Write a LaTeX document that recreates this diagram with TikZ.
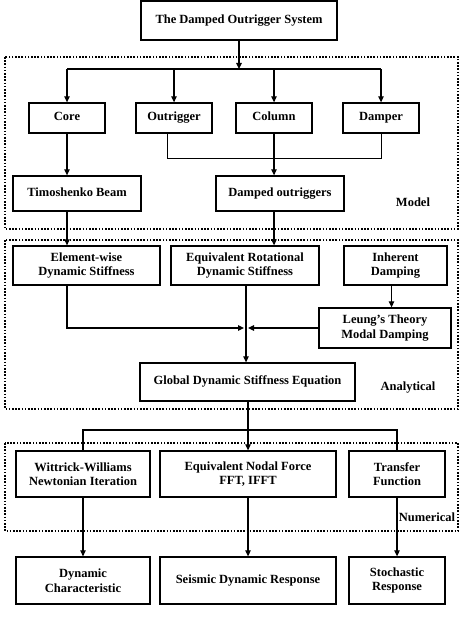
\documentclass[tikz,border=0pt]{standalone}
\usepackage{fontspec}
\setmainfont{Liberation Serif}
\usetikzlibrary{arrows.meta}

\begin{document}
\begin{tikzpicture}[x=1pt,y=-1pt,
  box/.style={draw,line width=1.3pt,inner sep=0pt,align=center,font=\fontsize{12.5}{14.5}\selectfont\bfseries},
  oneline/.style={text height=8.5pt,text depth=3pt},
  conn/.style={line width=1.2pt},
  arr/.style={conn,-{Triangle[length=6pt,width=5.5pt]}},
  thinconn/.style={line width=0.8pt},
  zone/.style={line width=1.8pt,dash pattern=on 1.6pt off 1.6pt},
  zlabel/.style={font=\fontsize{12.5}{14.5}\selectfont\bfseries}]
\useasboundingbox (0,0) rectangle (474,620);

% dotted regions
\draw[zone] (5,57) rectangle (458,229);
\draw[zone] (5,240) rectangle (458,409);
\draw[zone] (5,443) rectangle (458,531);
\node[zlabel] at (413,202) {Model};
\node[zlabel] at (408,388) {Analytical};
\node[zlabel] at (427,517) {Numerical};

% model
\node[box,oneline,minimum width=196,minimum height=39] (sys) at (239,20.5) {The Damped Outrigger System};
\foreach \n/\t/\x in {core/Core/67, outr/Outrigger/174, column/Column/274, damper/Damper/381}
  \node[box,oneline,minimum width=76,minimum height=30] (\n) at (\x,118) {\t};
\node[box,oneline,minimum width=128,minimum height=35] (timo) at (77,193.5) {Timoshenko Beam};
\node[box,oneline,minimum width=128,minimum height=35] (dmpout) at (280,193.5) {Damped outriggers};

\coordinate (split) at (239,69);
\draw[arr] (sys.south) -- (split);
\draw[conn] (core.north |- split) -- (damper.north |- split);
\foreach \n in {core,outr,column,damper}
  \draw[arr] (\n.north |- split) -- (\n.north);
\draw[thinconn] ([xshift=-7pt]outr.south) -- ++(0,25) -| (damper.south);
\draw[arr] (column.south) -- (column.south |- dmpout.north);
\draw[arr] (core.south) -- (core.south |- timo.north);

% analytical
\node[box,minimum width=147,minimum height=39] (elem) at (86.5,265.5) {Element-wise\\Dynamic Stiffness};
\node[box,minimum width=148,minimum height=39] (eqrot) at (245,265.5) {Equivalent Rotational\\Dynamic Stiffness};
\node[box,minimum width=103,minimum height=39] (inher) at (395.5,265.5) {Inherent\\Damping};
\node[box,minimum width=132,minimum height=40] (leung) at (385,328) {Leung's Theory\\Modal Damping};
\node[box,oneline,minimum width=215,minimum height=38] (global) at (247.5,382) {Global Dynamic Stiffness Equation};

\draw[arr] (core.south |- timo.south) -- (core.south |- elem.north);
\draw[arr] (column.south |- dmpout.south) -- (column.south |- eqrot.north);
\draw[arr] ([xshift=-4pt]inher.south) -- ([xshift=-4pt]inher.south |- leung.north);
\coordinate (merge) at (246,328);
\draw[arr] (core.south |- elem.south) |- ([xshift=-2pt]merge);
\draw[arr] (leung.west) -- ([xshift=2pt]merge);
\draw[arr] (merge |- eqrot.south) -- (merge |- global.north);

% numerical
\node[box,minimum width=134,minimum height=46] (witt) at (83,474) {Wittrick-Williams\\Newtonian Iteration};
\node[box,minimum width=176,minimum height=46] (enf) at (248,474) {Equivalent Nodal Force\\FFT, IFFT};
\node[box,minimum width=96,minimum height=46] (trans) at (397,474) {Transfer\\Function};
\node[box,minimum width=134,minimum height=47] (dyn) at (83,580.5) {Dynamic\\Characteristic};
\node[box,oneline,minimum width=176,minimum height=47] (seis) at (248,580.5) {Seismic Dynamic Response};
\node[box,minimum width=96,minimum height=47] (stoch) at (397,580.5) {Stochastic\\Response};

\coordinate (fork) at (248,430);
\draw[arr] (global.south -| fork) -- (enf.north -| fork);
\draw[conn] (witt.north) |- (fork) -| (trans.north);
\foreach \a/\b in {witt/dyn, enf/seis, trans/stoch}
  \draw[arr] (\a.south) -- (\b.north);
\end{tikzpicture}
\end{document}
